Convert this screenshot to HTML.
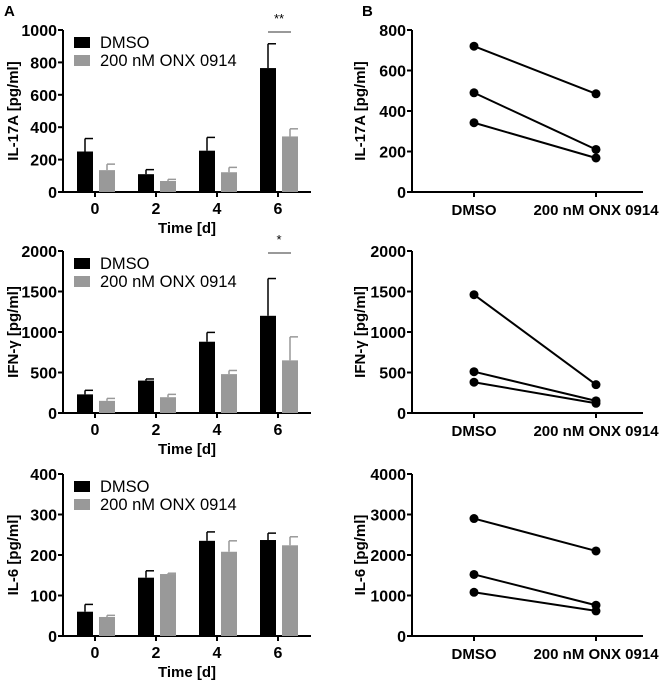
<!DOCTYPE html>
<html><head><meta charset="utf-8"><style>
body{margin:0;background:#fff;}
svg text{font-family:"Liberation Sans",Arial,sans-serif;}
</style></head><body>
<svg id="fig" width="663" height="685" viewBox="0 0 663 685">
<text x="4" y="16" font-size="15" font-weight="bold">A</text>
<text x="362" y="16" font-size="15" font-weight="bold">B</text>
</svg>
<script>
const timeCats = ["0","2","4","6"];
const il17Dmso = [250,110,255,765];
const il17DmsoErr = [80,28,82,150];
const il17Onx = [135,68,122,343];
const il17OnxErr = [37,10,30,47];
const ifnDmso = [230,400,880,1200];
const ifnDmsoErr = [50,20,115,460];
const ifnOnx = [150,195,480,650];
const ifnOnxErr = [30,35,45,290];
const il6Dmso = [60,144,235,237];
const il6DmsoErr = [18,17,22,17];
const il6Onx = [47,153,208,224];
const il6OnxErr = [4,2,27,21];
const il17Ticks = [0,200,400,600,800,1000];
const ifnTicks = [0,500,1000,1500,2000];
const il6Ticks = [0,100,200,300,400];
const pairCats = ["DMSO","200 nM ONX 0914"];
const il17PairDmso = [720,490,342];
const il17PairOnx = [485,210,168];
const ifnPairDmso = [1460,510,380];
const ifnPairOnx = [350,150,120];
const il6PairDmso = [2900,1520,1080];
const il6PairOnx = [2100,760,620];
const il17PairTicks = [0,200,400,600,800];
const ifnPairTicks = [0,500,1000,1500,2000];
const il6PairTicks = [0,1000,2000,3000,4000];

const NS="http://www.w3.org/2000/svg";
const svg=document.getElementById('fig');
function mk(tag,attrs,parent){const e=document.createElementNS(NS,tag);for(const k in attrs)e.setAttribute(k,attrs[k]);(parent||svg).appendChild(e);return e;}
function txt(s,attrs,parent){const e=mk('text',attrs,parent);e.textContent=s;return e;}

function axisY(g,x0,yTop,yBot,ticks,title,titleX){
  const max=ticks[ticks.length-1];
  const y=v=>yBot-(v/max)*(yBot-yTop);
  const ax=mk('line',{x1:x0,y1:yTop,x2:x0,y2:yBot,stroke:'#000','stroke-width':2},g);
  
  
  ticks.forEach(t=>{
    const tl=mk('line',{x1:x0-5,y1:y(t),x2:x0,y2:y(t),stroke:'#000','stroke-width':2},g);
    
    
    const lb=txt(String(t),{x:x0-6,y:y(t)+6,'font-size':16,'font-weight':'bold','text-anchor':'end'},g);
    
    
  });
  const tt=txt(title,{x:titleX,y:(yTop+yBot)/2,'font-size':15,'font-weight':'bold','text-anchor':'middle',transform:`rotate(-90 ${titleX} ${(yTop+yBot)/2})`},g);
  
  
  return y;
}

function barPanel(name,yTop,yBot,ticks,title,dm,dmE,on,onE,sig,sigText){
  const g=mk('g',{});
  
  
  const x0=63,x1=311;
  const y=axisY(g,x0,yTop,yBot,ticks,title,18);
  const xa=mk('line',{x1:x0,y1:yBot,x2:x1,y2:yBot,stroke:'#000','stroke-width':2},g);
  
  
  const cx=i=>95+i*61;
  timeCats.forEach((c,i)=>{
    const tk=mk('line',{x1:cx(i),y1:yBot,x2:cx(i),y2:yBot+5,stroke:'#000','stroke-width':2},g);
    
    
    const lb=txt(c,{x:cx(i),y:yBot+22,'font-size':16,'font-weight':'bold','text-anchor':'middle'},g);
    
    
    [[dm,dmE,'#000',-18,'bar-dmso'],[on,onE,'#999',4,'bar-onx']].forEach(([v,e,col,off,nm])=>{
      const bx=cx(i)+off,bw=16;
      const top=y(v[i]),et=y(v[i]+e[i]);
      const el=mk('line',{x1:bx+bw/2,y1:top,x2:bx+bw/2,y2:et,stroke:col,'stroke-width':1.5},g);
      
      
      const ec=mk('line',{x1:bx+bw/2,y1:et,x2:bx+bw,y2:et,stroke:col,'stroke-width':1.5},g);
      
      
      const r=mk('rect',{x:bx,y:top,width:bw,height:yBot-top,fill:col},g);
      
      
    });
  });
  const xt=txt('Time [d]',{x:187,y:yBot+41,'font-size':15,'font-weight':'bold','text-anchor':'middle'},g);
  
  
  const lg=mk('g',{},g);
  
  
  [['DMSO','#000'],['200 nM ONX 0914','#999']].forEach(([l,c],k)=>{
    const ly=yTop+7+k*18;
    const sw=mk('rect',{x:74,y:ly,width:16,height:11,fill:c},lg);
    
    
    const lt=txt(l,{x:100,y:ly+11,'font-size':16.5},lg);
    
    
  });
  if(sig){
    const sl=mk('line',{x1:268,y1:yTop+2,x2:291,y2:yTop+2,stroke:'#333','stroke-width':1},g);
    
    
    const st=txt(sigText,{x:279,y:yTop-7,'font-size':13,'text-anchor':'middle'},g);
    
    
  }
}

function pairPanel(name,yTop,yBot,ticks,title,dm,on){
  const g=mk('g',{});
  
  
  const x0=412,x1=643;
  const y=axisY(g,x0,yTop,yBot,ticks,title,365);
  const xa=mk('line',{x1:x0,y1:yBot,x2:x1,y2:yBot,stroke:'#000','stroke-width':2},g);
  
  
  const cx=[474,596];
  pairCats.forEach((c,i)=>{
    const tk=mk('line',{x1:cx[i],y1:yBot,x2:cx[i],y2:yBot+5,stroke:'#000','stroke-width':2},g);
    
    
    const lb=txt(c,{x:cx[i],y:yBot+23,'font-size':15,'font-weight':'bold','text-anchor':'middle'},g);
    
    
  });
  dm.forEach((v,k)=>{
    const ln=mk('line',{x1:cx[0],y1:y(v),x2:cx[1],y2:y(on[k]),stroke:'#000','stroke-width':2},g);
    
    
    [[cx[0],v],[cx[1],on[k]]].forEach(([px,pv])=>{
      const c=mk('circle',{cx:px,cy:y(pv),r:4.5,fill:'#000'},g);
      
      
    });
  });
}

barPanel('il17a-bar-chart',30,192,il17Ticks,'IL-17A [pg/ml]',il17Dmso,il17DmsoErr,il17Onx,il17OnxErr,true,'**');
barPanel('ifng-bar-chart',251,413,ifnTicks,'IFN-γ [pg/ml]',ifnDmso,ifnDmsoErr,ifnOnx,ifnOnxErr,true,'*');
barPanel('il6-bar-chart',474,636,il6Ticks,'IL-6 [pg/ml]',il6Dmso,il6DmsoErr,il6Onx,il6OnxErr,false,'');
pairPanel('il17a-paired-chart',30,192,il17PairTicks,'IL-17A [pg/ml]',il17PairDmso,il17PairOnx);
pairPanel('ifng-paired-chart',251,413,ifnPairTicks,'IFN-γ [pg/ml]',ifnPairDmso,ifnPairOnx);
pairPanel('il6-paired-chart',474,636,il6PairTicks,'IL-6 [pg/ml]',il6PairDmso,il6PairOnx);
</script>
</body></html>
